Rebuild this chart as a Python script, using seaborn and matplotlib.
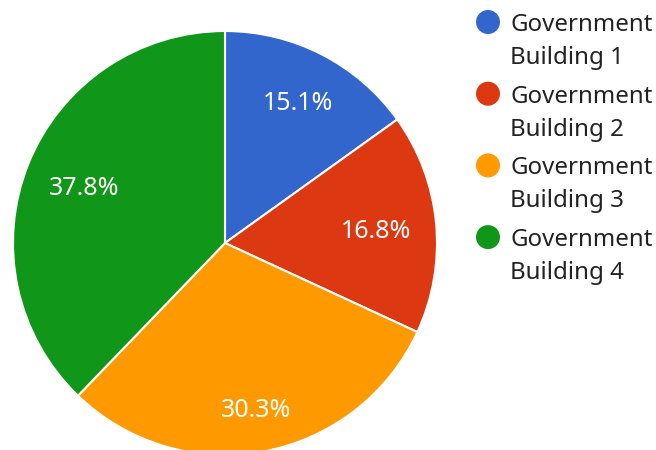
import matplotlib
matplotlib.use("Agg")
import matplotlib.pyplot as plt
import seaborn as sns
import numpy as np
from matplotlib.patches import Ellipse

sns.set_theme(style="white")
plt.rcParams['font.family'] = ['Noto Sans', 'DejaVu Sans']

categories = ["Government Building 1", "Government Building 2",
              "Government Building 3", "Government Building 4"]
values = [15.1, 16.8, 30.3, 37.8]
colors = ["#3366CC", "#DC3912", "#FF9900", "#109618"]
label_dist = [0.755, 0.717, 0.79, 0.716]

W, H = 656, 450
fig = plt.figure(figsize=(W / 100, H / 100), dpi=100)
cx, cy, r = 225, 243, 212
ax = fig.add_axes([(cx - r) / W, (H - cy - r) / H, 2 * r / W, 2 * r / H])
wedges, texts, autotexts = ax.pie(
    values, colors=colors, startangle=90, counterclock=False,
    autopct="%.1f%%", pctdistance=0.75, radius=1,
    wedgeprops=dict(edgecolor="white", linewidth=1.5),
    textprops=dict(color="white", fontsize=18),
)
for w, t, d in zip(wedges, autotexts, label_dist):
    ang = np.deg2rad((w.theta1 + w.theta2) / 2)
    t.set_position((d * np.cos(ang), d * np.sin(ang) - 0.012))
ax.set_xlim(-1, 1)
ax.set_ylim(-1, 1)
ax.set_aspect("auto")
ax.axis("off")

# legend
y0, step, line_gap = 22, 71.7, 33
for i, (cat, col) in enumerate(zip(categories, colors)):
    y = y0 + i * step
    fig.patches.append(Ellipse((488 / W, 1 - y / H), width=24 / W, height=24 / H,
                               transform=fig.transFigure, facecolor=col,
                               edgecolor="none"))
    words = cat.rsplit(" ", 2)
    line1 = words[0]
    line2 = " ".join(words[1:])
    fig.text(510 / W, 1 - y / H, line1, fontsize=17.3, color="#222222",
             va="center_baseline", ha="left")
    fig.text(510 / W, 1 - (y + line_gap) / H, line2, fontsize=17.3,
             color="#222222", va="center_baseline", ha="left")

fig.savefig("out.png", dpi=100)
